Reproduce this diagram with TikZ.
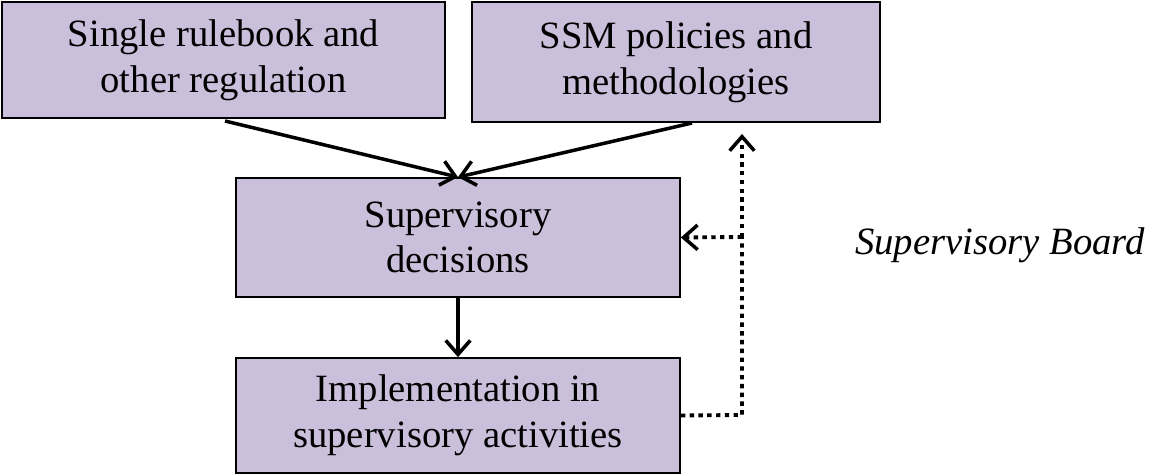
\documentclass[tikz,border=0pt]{standalone}
\usepackage{fontspec}
\setmainfont{Liberation Serif}
\usetikzlibrary{arrows.meta}
\definecolor{boxfill}{HTML}{CBC0DB}
\begin{document}
\begin{tikzpicture}[x=0.02cm,y=-0.02cm,
  box/.style={draw=black,line width=1pt,fill=boxfill,inner sep=0pt,align=center,font=\fontsize{22}{26}\selectfont},
  arr/.style={line width=2pt,-{Straight Barb[length=8pt,width=14pt,line width=2pt]}},
  dot/.style={line width=2.2pt,dash pattern=on 2.5pt off 2.5pt}]
\useasboundingbox (0,0) rectangle (1154,475);
\node[box,minimum width=443*0.02cm,minimum height=116*0.02cm] (a) at (223.5,60) {Single rulebook and\\other regulation};
\node[box,minimum width=408*0.02cm,minimum height=120*0.02cm] (b) at (676,62) {SSM policies and\\methodologies};
\node[box,minimum width=444*0.02cm,minimum height=119*0.02cm] (c) at (458,237.5) {Supervisory\\decisions};
\node[box,minimum width=444*0.02cm,minimum height=115*0.02cm] (d) at (458,415.5) {Implementation in\\supervisory activities};
\node[font=\fontsize{22}{26}\selectfont\itshape] (sb) at (1000,245) {Supervisory Board};
\coordinate (a1) at (225,121);
\coordinate (b1) at (692,123);
\coordinate (d1) at (742,415);
\coordinate (top) at (742,134);
\coordinate (mid) at (742,237);
\draw[arr] (a1) -- (c.north);
\draw[arr] (b1) -- (c.north);
\draw[arr] (c.south) -- (d.north);
\draw[dot] (d.east) -- (d1) -- (mid);
\draw[dot,-{Straight Barb[length=8pt,width=14pt,line width=2pt]}] (mid) -- (top);
\draw[dot,-{Straight Barb[length=8pt,width=14pt,line width=2pt]}] (mid) -- (c.east);
\end{tikzpicture}
\end{document}
